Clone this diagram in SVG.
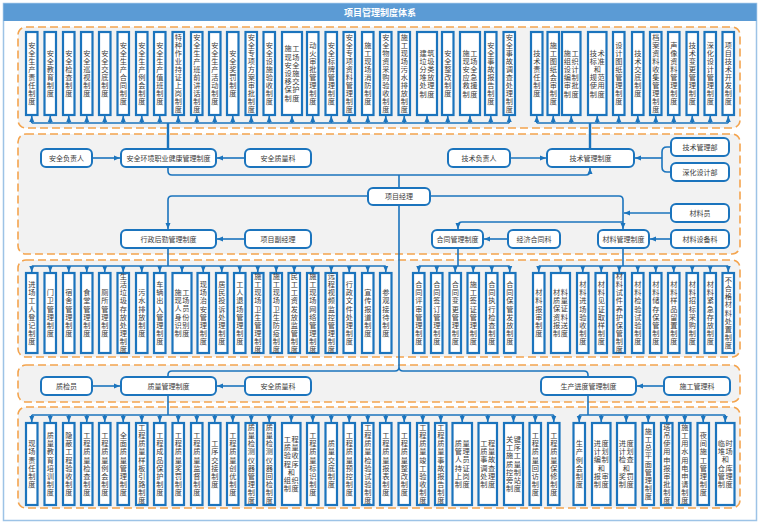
<svg xmlns="http://www.w3.org/2000/svg" width="760" height="524" viewBox="0 0 760 524">
<style>
.fr{fill:#fff;stroke:#9dc3e6;stroke-width:1.5}
.g{fill:#f2f2f2;stroke:#f4a44e;stroke-width:1.6;stroke-dasharray:8 4}
.b{fill:#fff;stroke:#1b74bd;stroke-width:2.2}
.n{fill:#fff;stroke:#1b74bd;stroke-width:2}
text{font-family:"Noto Sans CJK SC","Noto Sans",sans-serif;fill:#3a3a3a}
.v{font-size:7.2px;text-anchor:middle}
.w{font-size:7.2px;text-anchor:middle}
.h{font-size:7px;text-anchor:middle}
.c{fill:none;stroke:#1b74bd;stroke-width:1.6}
.t{fill:none;stroke:#1b74bd;stroke-width:2.4}
.a{fill:none;stroke:#1b74bd;stroke-width:1.6;marker-end:url(#ar)}
</style>
<defs>
<marker id="ar" markerUnits="userSpaceOnUse" markerWidth="6" markerHeight="6" viewBox="0 0 6 6" refX="6" refY="3" orient="auto"><path d="M0,0.5 L6,3 L0,5.5 z" fill="#1b74bd"/></marker>
</defs>
<rect class="fr" x="3.5" y="3.5" width="753" height="517"/>
<rect x="3.5" y="3.5" width="753" height="17.5" fill="#5b9bd5"/>
<text x="380" y="15.8" style="font-size:9px;font-weight:bold;fill:#fff;text-anchor:middle">项目管理制度体系</text>

<rect class="g" x="18" y="27" width="722" height="101" rx="8"/>
<rect class="g" x="18" y="134" width="722" height="120" rx="8"/>
<rect class="g" x="18" y="260" width="722" height="97" rx="8"/>
<rect class="g" x="18" y="365" width="722" height="37" rx="8"/>
<rect class="g" x="18" y="407" width="722" height="101" rx="8"/>

<g id="connectors">
<path class="c" d="M31.75,123 H509.25 M536.75,123 H728.25"/>
<path class="t" d="M168,123 V149 M590,123 V149"/>
<path class="a" d="M31.75,123 V116"/><path class="a" d="M50.25,123 V116"/><path class="a" d="M68.75,123 V116"/><path class="a" d="M86.75,123 V116"/><path class="a" d="M104.75,123 V116"/><path class="a" d="M123.25,123 V116"/><path class="a" d="M141.75,123 V116"/><path class="a" d="M159.75,123 V116"/><path class="a" d="M178.25,123 V116"/><path class="a" d="M196.75,123 V116"/><path class="a" d="M214.75,123 V116"/><path class="a" d="M232.75,123 V116"/><path class="a" d="M251.25,123 V116"/><path class="a" d="M269.25,123 V116"/><path class="a" d="M292,123 V116"/><path class="a" d="M312.75,123 V116"/><path class="a" d="M331.25,123 V116"/><path class="a" d="M349.25,123 V116"/><path class="a" d="M367.75,123 V116"/><path class="a" d="M385.75,123 V116"/><path class="a" d="M404.25,123 V116"/><path class="a" d="M427,123 V116"/><path class="a" d="M447.75,123 V116"/><path class="a" d="M470,123 V116"/><path class="a" d="M490.75,123 V116"/><path class="a" d="M509.25,123 V116"/>
<path class="a" d="M536.75,123 V116"/><path class="a" d="M553.25,123 V116"/><path class="a" d="M571.25,123 V116"/><path class="a" d="M597.25,123 V116"/><path class="a" d="M618.75,123 V116"/><path class="a" d="M637.75,123 V116"/><path class="a" d="M655.75,123 V116"/><path class="a" d="M673.75,123 V116"/><path class="a" d="M692.25,123 V116"/><path class="a" d="M710.25,123 V116"/><path class="a" d="M728.25,123 V116"/>

<path class="a" d="M92,158 H120"/>
<path class="a" d="M245,158 H217"/>
<path class="a" d="M510,158 H546"/>
<path class="c" d="M671,147 H667 Q662,147 662,152 V167 Q662,172 667,172 H671"/>
<path class="a" d="M662,158 H635"/>
<path class="c" d="M168,167 V171 Q168,175 172,175 H586 Q590,175 590,171"/>
<path class="a" d="M590,172 V168"/>
<path class="c" d="M399,188 V175"/>
<path class="a" d="M368,196 H172 Q168,196 168,200 V229"/>
<path class="a" d="M430,196 H619 Q623,196 623,200 V229"/>
<path class="a" d="M623,222 H462 Q458,222 458,226 V229"/>
<path class="a" d="M671,213 H624"/>
<path class="a" d="M508,239 H484"/>
<path class="a" d="M671,239 H650"/>
<path class="a" d="M245,239 H217"/>
<path class="c" d="M399,205 V367 Q399,371 395,371 H172 Q168,371 168,375 V377 M399,367 Q399,371 403,371 H584 Q588,371 588,375 V377"/>

<path class="c" d="M168,248 V266 M458,248 V266 M623,248 V266"/>
<path class="c" d="M31.75,266 H385.75 M418.75,266 H509.75 M538.75,266 H728.25"/>
<path class="a" d="M31.75,266 V272"/><path class="a" d="M50.25,266 V272"/><path class="a" d="M68.75,266 V272"/><path class="a" d="M86.75,266 V272"/><path class="a" d="M104.75,266 V272"/><path class="a" d="M123.25,266 V272"/><path class="a" d="M141.75,266 V272"/><path class="a" d="M159.75,266 V272"/><path class="a" d="M182,266 V272"/><path class="a" d="M203.25,266 V272"/><path class="a" d="M221.75,266 V272"/><path class="a" d="M239.75,266 V272"/><path class="a" d="M257.75,266 V272"/><path class="a" d="M276.25,266 V272"/><path class="a" d="M294.25,266 V272"/><path class="a" d="M312.75,266 V272"/><path class="a" d="M331.25,266 V272"/><path class="a" d="M349.25,266 V272"/><path class="a" d="M367.75,266 V272"/><path class="a" d="M385.75,266 V272"/>
<path class="a" d="M418.75,266 V272"/><path class="a" d="M436.75,266 V272"/><path class="a" d="M455.25,266 V272"/><path class="a" d="M473.25,266 V272"/><path class="a" d="M491.75,266 V272"/><path class="a" d="M509.75,266 V272"/>
<path class="a" d="M538.75,266 V272"/><path class="a" d="M560.5,266 V272"/><path class="a" d="M582.75,266 V272"/><path class="a" d="M601.25,266 V272"/><path class="a" d="M619.25,266 V272"/><path class="a" d="M637.75,266 V272"/><path class="a" d="M655.75,266 V272"/><path class="a" d="M673.75,266 V272"/><path class="a" d="M692.25,266 V272"/><path class="a" d="M710.25,266 V272"/><path class="a" d="M728.25,266 V272"/>

<path class="a" d="M92,386 H120"/>
<path class="a" d="M245,386 H217"/>
<path class="a" d="M664,386 H637"/>

<path class="c" d="M168,395 V415 M588,395 V415"/>
<path class="c" d="M31.75,415 H553.75 M579.25,415 H725.25"/>
<path class="a" d="M31.75,415 V422"/><path class="a" d="M50.25,415 V422"/><path class="a" d="M68.75,415 V422"/><path class="a" d="M86.75,415 V422"/><path class="a" d="M104.75,415 V422"/><path class="a" d="M123.25,415 V422"/><path class="a" d="M141.75,415 V422"/><path class="a" d="M159.75,415 V422"/><path class="a" d="M178.25,415 V422"/><path class="a" d="M196.75,415 V422"/><path class="a" d="M214.75,415 V422"/><path class="a" d="M232.75,415 V422"/><path class="a" d="M251.25,415 V422"/><path class="a" d="M269.25,415 V422"/><path class="a" d="M291.25,415 V422"/><path class="a" d="M312.75,415 V422"/><path class="a" d="M331.25,415 V422"/><path class="a" d="M349.25,415 V422"/><path class="a" d="M367.75,415 V422"/><path class="a" d="M385.75,415 V422"/><path class="a" d="M404.25,415 V422"/><path class="a" d="M422.75,415 V422"/><path class="a" d="M440.75,415 V422"/><path class="a" d="M462.25,415 V422"/><path class="a" d="M487.75,415 V422"/><path class="a" d="M513.5,415 V422"/><path class="a" d="M535.25,415 V422"/><path class="a" d="M553.75,415 V422"/>
<path class="a" d="M579.25,415 V422"/><path class="a" d="M601.25,415 V422"/><path class="a" d="M626.25,415 V422"/><path class="a" d="M648.25,415 V422"/><path class="a" d="M666.75,415 V422"/><path class="a" d="M684.75,415 V422"/><path class="a" d="M703.25,415 V422"/><path class="a" d="M725.25,415 V422"/>
</g>

<!-- top row -->
<g id="t1"><rect class="b" x="26" y="32" width="11.5" height="83"/><text class="v" x="31.75 31.75 31.75 31.75 31.75 31.75 31.75 31.75" y="47.7" dy="0 8.1 8.1 8.1 8.1 8.1 8.1 8.1">安全生产责任制度</text></g>
<g id="t2"><rect class="b" x="44.5" y="32" width="11.5" height="83"/><text class="v" x="50.25 50.25 50.25 50.25 50.25 50.25" y="55.8" dy="0 8.1 8.1 8.1 8.1 8.1">安全教育制度</text></g>
<g id="t3"><rect class="b" x="63" y="32" width="11.5" height="83"/><text class="v" x="68.75 68.75 68.75 68.75 68.75 68.75" y="55.8" dy="0 8.1 8.1 8.1 8.1 8.1">安全检查制度</text></g>
<g id="t4"><rect class="b" x="81" y="32" width="11.5" height="83"/><text class="v" x="86.75 86.75 86.75 86.75 86.75 86.75" y="55.8" dy="0 8.1 8.1 8.1 8.1 8.1">安全巡视制度</text></g>
<g id="t5"><rect class="b" x="99" y="32" width="11.5" height="83"/><text class="v" x="104.75 104.75 104.75 104.75 104.75 104.75" y="55.8" dy="0 8.1 8.1 8.1 8.1 8.1">安全交底制度</text></g>
<g id="t6"><rect class="b" x="117.5" y="32" width="11.5" height="83"/><text class="v" x="123.25 123.25 123.25 123.25 123.25 123.25 123.25 123.25" y="47.7" dy="0 8.1 8.1 8.1 8.1 8.1 8.1 8.1">安全生产合同制度</text></g>
<g id="t7"><rect class="b" x="136" y="32" width="11.5" height="83"/><text class="v" x="141.75 141.75 141.75 141.75 141.75 141.75 141.75 141.75" y="47.7" dy="0 8.1 8.1 8.1 8.1 8.1 8.1 8.1">安全生产例会制度</text></g>
<g id="t8"><rect class="b" x="154" y="32" width="11.5" height="83"/><text class="v" x="159.75 159.75 159.75 159.75 159.75 159.75 159.75 159.75" y="47.7" dy="0 8.1 8.1 8.1 8.1 8.1 8.1 8.1">安全生产值班制度</text></g>
<g id="t9"><rect class="b" x="172.5" y="32" width="11.5" height="83"/><text class="v" x="178.25 178.25 178.25 178.25 178.25 178.25 178.25 178.25 178.25 178.25" y="39.6" dy="0 8.1 8.1 8.1 8.1 8.1 8.1 8.1 8.1 8.1">特种作业持证上岗制度</text></g>
<g id="t10"><rect class="b" x="191" y="32" width="11.5" height="83"/><text class="v" x="196.75 196.75 196.75 196.75 196.75 196.75 196.75 196.75 196.75 196.75" y="39.6" dy="0 8.1 8.1 8.1 8.1 8.1 8.1 8.1 8.1 8.1">安全生产班前讲话制度</text></g>
<g id="t11"><rect class="b" x="209" y="32" width="11.5" height="83"/><text class="v" x="214.75 214.75 214.75 214.75 214.75 214.75 214.75 214.75" y="47.7" dy="0 8.1 8.1 8.1 8.1 8.1 8.1 8.1">安全生产活动制度</text></g>
<g id="t12"><rect class="b" x="227" y="32" width="11.5" height="83"/><text class="v" x="232.75 232.75 232.75 232.75 232.75 232.75" y="55.8" dy="0 8.1 8.1 8.1 8.1 8.1">安全奖罚制度</text></g>
<g id="t13"><rect class="b" x="245.5" y="32" width="11.5" height="83"/><text class="v" x="251.25 251.25 251.25 251.25 251.25 251.25 251.25 251.25 251.25 251.25" y="39.6" dy="0 8.1 8.1 8.1 8.1 8.1 8.1 8.1 8.1 8.1">安全专项方案审批制度</text></g>
<g id="t14"><rect class="b" x="263.5" y="32" width="11.5" height="83"/><text class="v" x="269.25 269.25 269.25 269.25 269.25 269.25 269.25 269.25" y="47.7" dy="0 8.1 8.1 8.1 8.1 8.1 8.1 8.1">安全设施验收制度</text></g>
<g id="t15"><rect class="b" x="282" y="32" width="20" height="83"/><text class="w" x="288.2 295.8 288.2 295.8 288.2 295.8 288.2 295.8 288.2 295.8 288.2 295.8 288.2 295.8" y="51.4 51.4 59.6 59.6 67.8 67.8 76 76 84.2 84.2 92.4 92.4 100.6 100.6">施工现场安全设施移交保护制度</text></g>
<g id="t16"><rect class="b" x="307" y="32" width="11.5" height="83"/><text class="v" x="312.75 312.75 312.75 312.75 312.75 312.75 312.75 312.75" y="47.7" dy="0 8.1 8.1 8.1 8.1 8.1 8.1 8.1">动火审批管理制度</text></g>
<g id="t17"><rect class="b" x="325.5" y="32" width="11.5" height="83"/><text class="v" x="331.25 331.25 331.25 331.25 331.25 331.25 331.25 331.25" y="47.7" dy="0 8.1 8.1 8.1 8.1 8.1 8.1 8.1">安全标牌管理制度</text></g>
<g id="t18"><rect class="b" x="343.5" y="32" width="11.5" height="83"/><text class="v" x="349.25 349.25 349.25 349.25 349.25 349.25 349.25 349.25 349.25 349.25" y="39.6" dy="0 8.1 8.1 8.1 8.1 8.1 8.1 8.1 8.1 8.1">安全专项资料管理制度</text></g>
<g id="t19"><rect class="b" x="362" y="32" width="11.5" height="83"/><text class="v" x="367.75 367.75 367.75 367.75 367.75 367.75 367.75 367.75" y="47.7" dy="0 8.1 8.1 8.1 8.1 8.1 8.1 8.1">施工现场消防制度</text></g>
<g id="t20"><rect class="b" x="380" y="32" width="11.5" height="83"/><text class="v" x="385.75 385.75 385.75 385.75 385.75 385.75 385.75 385.75 385.75 385.75" y="39.6" dy="0 8.1 8.1 8.1 8.1 8.1 8.1 8.1 8.1 8.1">安全物资采购验收制度</text></g>
<g id="t21"><rect class="b" x="398.5" y="32" width="11.5" height="83"/><text class="v" x="404.25 404.25 404.25 404.25 404.25 404.25 404.25 404.25 404.25 404.25" y="39.6" dy="0 8.1 8.1 8.1 8.1 8.1 8.1 8.1 8.1 8.1">施工现场污水排放制度</text></g>
<g id="t22"><rect class="b" x="417" y="32" width="20" height="83"/><text class="w" x="423.2 430.8 423.2 430.8 423.2 430.8 423.2 430.8 423.2 430.8 423.2 430.8" y="55.5 55.5 63.7 63.7 71.9 71.9 80.1 80.1 88.3 88.3 96.5 96.5">建筑垃圾分类堆放处理制度</text></g>
<g id="t23"><rect class="b" x="442" y="32" width="11.5" height="83"/><text class="v" x="447.75 447.75 447.75 447.75 447.75 447.75" y="55.8" dy="0 8.1 8.1 8.1 8.1 8.1">安全整改制度</text></g>
<g id="t24"><rect class="b" x="460" y="32" width="20" height="83"/><text class="w" x="466.2 473.8 466.2 473.8 466.2 473.8 466.2 473.8 466.2 473.8 466.2 473.8" y="55.5 55.5 63.7 63.7 71.9 71.9 80.1 80.1 88.3 88.3 96.5 96.5">施工现场安全应急救援制度</text></g>
<g id="t25"><rect class="b" x="485" y="32" width="11.5" height="83"/><text class="v" x="490.75 490.75 490.75 490.75 490.75 490.75 490.75 490.75" y="47.7" dy="0 8.1 8.1 8.1 8.1 8.1 8.1 8.1">安全事故报告制度</text></g>
<g id="t26"><rect class="b" x="503.5" y="32" width="11.5" height="83"/><text class="v" x="509.25 509.25 509.25 509.25 509.25 509.25 509.25 509.25 509.25 509.25" y="39.6" dy="0 8.1 8.1 8.1 8.1 8.1 8.1 8.1 8.1 8.1">安全事故调查处理制度</text></g>
<g id="t27"><rect class="b" x="531" y="32" width="11.5" height="83"/><text class="v" x="536.75 536.75 536.75 536.75 536.75 536.75" y="55.8" dy="0 8.1 8.1 8.1 8.1 8.1">技术责任制度</text></g>
<g id="t28"><rect class="b" x="547.5" y="32" width="11.5" height="83"/><text class="v" x="553.25 553.25 553.25 553.25 553.25 553.25 553.25 553.25" y="47.7" dy="0 8.1 8.1 8.1 8.1 8.1 8.1 8.1">施工图纸会审制度</text></g>
<g id="t29"><rect class="b" x="562" y="32" width="18.5" height="83"/><text class="w" x="567.45 575.05 567.45 575.05 567.45 575.05 567.45 575.05 567.45 575.05 567.45 575.05" y="55.5 55.5 63.7 63.7 71.9 71.9 80.1 80.1 88.3 88.3 96.5 96.5">施工组织设计编制审批制度</text></g>
<g id="t30"><rect class="b" x="588" y="32" width="18.5" height="83"/><text class="w" x="593.45 601.05 593.45 601.05 597.25 593.45 601.05 593.45 601.05 593.45 601.05" y="55.5 55.5 63.7 63.7 71.9 80.1 80.1 88.3 88.3 96.5 96.5">技术标准和规范使用制度</text></g>
<g id="t31"><rect class="b" x="613" y="32" width="11.5" height="83"/><text class="v" x="618.75 618.75 618.75 618.75 618.75 618.75 618.75 618.75" y="47.7" dy="0 8.1 8.1 8.1 8.1 8.1 8.1 8.1">设计图纸管理制度</text></g>
<g id="t32"><rect class="b" x="632" y="32" width="11.5" height="83"/><text class="v" x="637.75 637.75 637.75 637.75 637.75 637.75" y="55.8" dy="0 8.1 8.1 8.1 8.1 8.1">技术交底制度</text></g>
<g id="t33"><rect class="b" x="650" y="32" width="11.5" height="83"/><text class="v" x="655.75 655.75 655.75 655.75 655.75 655.75 655.75 655.75 655.75 655.75" y="39.6" dy="0 8.1 8.1 8.1 8.1 8.1 8.1 8.1 8.1 8.1">档案资料收集管理制度</text></g>
<g id="t34"><rect class="b" x="668" y="32" width="11.5" height="83"/><text class="v" x="673.75 673.75 673.75 673.75 673.75 673.75 673.75 673.75" y="47.7" dy="0 8.1 8.1 8.1 8.1 8.1 8.1 8.1">声像资料管理制度</text></g>
<g id="t35"><rect class="b" x="686.5" y="32" width="11.5" height="83"/><text class="v" x="692.25 692.25 692.25 692.25 692.25 692.25 692.25 692.25" y="47.7" dy="0 8.1 8.1 8.1 8.1 8.1 8.1 8.1">技术变更管理制度</text></g>
<g id="t36"><rect class="b" x="704.5" y="32" width="11.5" height="83"/><text class="v" x="710.25 710.25 710.25 710.25 710.25 710.25 710.25 710.25" y="47.7" dy="0 8.1 8.1 8.1 8.1 8.1 8.1 8.1">深化设计管理制度</text></g>
<g id="t37"><rect class="b" x="722.5" y="32" width="11.5" height="83"/><text class="v" x="728.25 728.25 728.25 728.25 728.25 728.25 728.25 728.25" y="47.7" dy="0 8.1 8.1 8.1 8.1 8.1 8.1 8.1">项目技术开发制度</text></g>

<!-- middle nodes -->
<g id="m-aqfzr"><rect class="n" x="41" y="149" width="51" height="18" rx="5"/><text class="h" x="66.5" y="160.5">安全负责人</text></g>
<g id="m-aqhj"><rect class="n" x="121" y="149" width="95" height="18" rx="5"/><text class="h" x="168.5" y="160.5">安全环境职业健康管理制度</text></g>
<g id="m-aqzlk"><rect class="n" x="245" y="149" width="66" height="18" rx="5"/><text class="h" x="278" y="160.5">安全质量科</text></g>
<g id="m-xzhq"><rect class="n" x="121" y="230" width="95" height="18" rx="5"/><text class="h" x="168.5" y="241.5">行政后勤管理制度</text></g>
<g id="m-xmfjl"><rect class="n" x="245" y="230" width="66" height="18" rx="5"/><text class="h" x="278" y="241.5">项目副经理</text></g>
<g id="m-xmjl"><rect class="n" x="368" y="188" width="62" height="17" rx="5"/><text class="h" x="399" y="199">项目经理</text></g>
<g id="m-jsfzr"><rect class="n" x="448" y="149" width="62" height="18" rx="5"/><text class="h" x="479" y="160.5">技术负责人</text></g>
<g id="m-jsgl"><rect class="n" x="547" y="149" width="87" height="18" rx="5"/><text class="h" x="590.5" y="160.5">技术管理制度</text></g>
<g id="m-jsglb"><rect class="n" x="671" y="138" width="58" height="18" rx="5"/><text class="h" x="700" y="149.5">技术管理部</text></g>
<g id="m-shsj"><rect class="n" x="671" y="163" width="58" height="18" rx="5"/><text class="h" x="700" y="174.5">深化设计部</text></g>
<g id="m-cly"><rect class="n" x="671" y="204" width="58" height="18" rx="5"/><text class="h" x="700" y="215.5">材料员</text></g>
<g id="m-htgl"><rect class="n" x="432" y="230" width="51" height="18" rx="5"/><text class="h" x="457.5" y="241.5">合同管理制度</text></g>
<g id="m-jjht"><rect class="n" x="508" y="230" width="52" height="18" rx="5"/><text class="h" x="534" y="241.5">经济合同科</text></g>
<g id="m-clgl"><rect class="n" x="598" y="230" width="51" height="18" rx="5"/><text class="h" x="623.5" y="241.5">材料管理制度</text></g>
<g id="m-clsb"><rect class="n" x="671" y="230" width="58" height="18" rx="5"/><text class="h" x="700" y="241.5">材料设备科</text></g>

<!-- section 3 -->
<g id="s3-1"><rect class="b" x="26" y="273" width="11.5" height="80"/><text class="v" x="31.75 31.75 31.75 31.75 31.75 31.75 31.75 31.75" y="287.2" dy="0 8.1 8.1 8.1 8.1 8.1 8.1 8.1">进场工人登记制度</text></g>
<g id="s3-2"><rect class="b" x="44.5" y="273" width="11.5" height="80"/><text class="v" x="50.25 50.25 50.25 50.25 50.25 50.25" y="295.3" dy="0 8.1 8.1 8.1 8.1 8.1">门卫管理制度</text></g>
<g id="s3-3"><rect class="b" x="63" y="273" width="11.5" height="80"/><text class="v" x="68.75 68.75 68.75 68.75 68.75 68.75" y="295.3" dy="0 8.1 8.1 8.1 8.1 8.1">宿舍管理制度</text></g>
<g id="s3-4"><rect class="b" x="81" y="273" width="11.5" height="80"/><text class="v" x="86.75 86.75 86.75 86.75 86.75 86.75" y="295.3" dy="0 8.1 8.1 8.1 8.1 8.1">食堂管理制度</text></g>
<g id="s3-5"><rect class="b" x="99" y="273" width="11.5" height="80"/><text class="v" x="104.75 104.75 104.75 104.75 104.75 104.75" y="295.3" dy="0 8.1 8.1 8.1 8.1 8.1">厕所管理制度</text></g>
<g id="s3-6"><rect class="b" x="117.5" y="273" width="11.5" height="80"/><text class="v" x="123.25 123.25 123.25 123.25 123.25 123.25 123.25 123.25 123.25 123.25" y="279.1" dy="0 8.1 8.1 8.1 8.1 8.1 8.1 8.1 8.1 8.1">生活垃圾存放处理制度</text></g>
<g id="s3-7"><rect class="b" x="136" y="273" width="11.5" height="80"/><text class="v" x="141.75 141.75 141.75 141.75 141.75 141.75" y="295.3" dy="0 8.1 8.1 8.1 8.1 8.1">污水排放制度</text></g>
<g id="s3-8"><rect class="b" x="154" y="273" width="11.5" height="80"/><text class="v" x="159.75 159.75 159.75 159.75 159.75 159.75 159.75 159.75" y="287.2" dy="0 8.1 8.1 8.1 8.1 8.1 8.1 8.1">车辆出入管理制度</text></g>
<g id="s3-9"><rect class="b" x="172.5" y="273" width="19" height="80"/><text class="w" x="178.2 185.8 178.2 185.8 178.2 185.8 178.2 185.8 178.2 185.8 178.2 185.8" y="295 295 303.2 303.2 311.4 311.4 319.6 319.6 327.8 327.8 336 336">施工现场人员身份识别制度</text></g>
<g id="s3-10"><rect class="b" x="197.5" y="273" width="11.5" height="80"/><text class="v" x="203.25 203.25 203.25 203.25 203.25 203.25 203.25 203.25" y="287.2" dy="0 8.1 8.1 8.1 8.1 8.1 8.1 8.1">现场治安管理制度</text></g>
<g id="s3-11"><rect class="b" x="216" y="273" width="11.5" height="80"/><text class="v" x="221.75 221.75 221.75 221.75 221.75 221.75 221.75 221.75" y="287.2" dy="0 8.1 8.1 8.1 8.1 8.1 8.1 8.1">居民投诉处理制度</text></g>
<g id="s3-12"><rect class="b" x="234" y="273" width="11.5" height="80"/><text class="v" x="239.75 239.75 239.75 239.75 239.75 239.75 239.75 239.75" y="287.2" dy="0 8.1 8.1 8.1 8.1 8.1 8.1 8.1">工人退场管理制度</text></g>
<g id="s3-13"><rect class="b" x="252" y="273" width="11.5" height="80"/><text class="v" x="257.75 257.75 257.75 257.75 257.75 257.75 257.75 257.75 257.75 257.75" y="279.1" dy="0 8.1 8.1 8.1 8.1 8.1 8.1 8.1 8.1 8.1">施工现场卫生管理制度</text></g>
<g id="s3-14"><rect class="b" x="270.5" y="273" width="11.5" height="80"/><text class="v" x="276.25 276.25 276.25 276.25 276.25 276.25 276.25 276.25 276.25 276.25" y="279.1" dy="0 8.1 8.1 8.1 8.1 8.1 8.1 8.1 8.1 8.1">施工现场卫生防疫制度</text></g>
<g id="s3-15"><rect class="b" x="288.5" y="273" width="11.5" height="80"/><text class="v" x="294.25 294.25 294.25 294.25 294.25 294.25 294.25 294.25 294.25 294.25" y="279.1" dy="0 8.1 8.1 8.1 8.1 8.1 8.1 8.1 8.1 8.1">民工工资发放监管制度</text></g>
<g id="s3-16"><rect class="b" x="307" y="273" width="11.5" height="80"/><text class="v" x="312.75 312.75 312.75 312.75 312.75 312.75 312.75 312.75 312.75 312.75" y="279.1" dy="0 8.1 8.1 8.1 8.1 8.1 8.1 8.1 8.1 8.1">施工现场网络管理制度</text></g>
<g id="s3-17"><rect class="b" x="325.5" y="273" width="11.5" height="80"/><text class="v" x="331.25 331.25 331.25 331.25 331.25 331.25 331.25 331.25 331.25 331.25" y="279.1" dy="0 8.1 8.1 8.1 8.1 8.1 8.1 8.1 8.1 8.1">远程视频监控管理制度</text></g>
<g id="s3-18"><rect class="b" x="343.5" y="273" width="11.5" height="80"/><text class="v" x="349.25 349.25 349.25 349.25 349.25 349.25 349.25 349.25" y="287.2" dy="0 8.1 8.1 8.1 8.1 8.1 8.1 8.1">行政文件处理制度</text></g>
<g id="s3-19"><rect class="b" x="362" y="273" width="11.5" height="80"/><text class="v" x="367.75 367.75 367.75 367.75 367.75 367.75" y="295.3" dy="0 8.1 8.1 8.1 8.1 8.1">宣传报道制度</text></g>
<g id="s3-20"><rect class="b" x="380" y="273" width="11.5" height="80"/><text class="v" x="385.75 385.75 385.75 385.75 385.75 385.75" y="295.3" dy="0 8.1 8.1 8.1 8.1 8.1">参观接待制度</text></g>
<g id="s3-21"><rect class="b" x="413" y="273" width="11.5" height="80"/><text class="v" x="418.75 418.75 418.75 418.75 418.75 418.75 418.75 418.75" y="287.2" dy="0 8.1 8.1 8.1 8.1 8.1 8.1 8.1">合同评审管理制度</text></g>
<g id="s3-22"><rect class="b" x="431" y="273" width="11.5" height="80"/><text class="v" x="436.75 436.75 436.75 436.75 436.75 436.75 436.75 436.75" y="287.2" dy="0 8.1 8.1 8.1 8.1 8.1 8.1 8.1">合同签订管理制度</text></g>
<g id="s3-23"><rect class="b" x="449.5" y="273" width="11.5" height="80"/><text class="v" x="455.25 455.25 455.25 455.25 455.25 455.25 455.25 455.25" y="287.2" dy="0 8.1 8.1 8.1 8.1 8.1 8.1 8.1">合同变更管理制度</text></g>
<g id="s3-24"><rect class="b" x="467.5" y="273" width="11.5" height="80"/><text class="v" x="473.25 473.25 473.25 473.25 473.25 473.25 473.25 473.25" y="287.2" dy="0 8.1 8.1 8.1 8.1 8.1 8.1 8.1">施工签证管理制度</text></g>
<g id="s3-25"><rect class="b" x="486" y="273" width="11.5" height="80"/><text class="v" x="491.75 491.75 491.75 491.75 491.75 491.75 491.75 491.75" y="287.2" dy="0 8.1 8.1 8.1 8.1 8.1 8.1 8.1">合同执行检查制度</text></g>
<g id="s3-26"><rect class="b" x="504" y="273" width="11.5" height="80"/><text class="v" x="509.75 509.75 509.75 509.75 509.75 509.75 509.75 509.75" y="287.2" dy="0 8.1 8.1 8.1 8.1 8.1 8.1 8.1">合同保管发放制度</text></g>
<g id="s3-27"><rect class="b" x="533" y="273" width="11.5" height="80"/><text class="v" x="538.75 538.75 538.75 538.75 538.75 538.75" y="295.3" dy="0 8.1 8.1 8.1 8.1 8.1">材料报审制度</text></g>
<g id="s3-28"><rect class="b" x="551" y="273" width="19" height="80"/><text class="w" x="556.7 564.3 556.7 564.3 556.7 564.3 556.7 564.3 556.7 564.3 556.7 564.3" y="295 295 303.2 303.2 311.4 311.4 319.6 319.6 327.8 327.8 336 336">材料质量保证资料报送制度</text></g>
<g id="s3-29"><rect class="b" x="577" y="273" width="11.5" height="80"/><text class="v" x="582.75 582.75 582.75 582.75 582.75 582.75 582.75 582.75" y="287.2" dy="0 8.1 8.1 8.1 8.1 8.1 8.1 8.1">材料进场验收制度</text></g>
<g id="s3-30"><rect class="b" x="595.5" y="273" width="11.5" height="80"/><text class="v" x="601.25 601.25 601.25 601.25 601.25 601.25 601.25 601.25" y="287.2" dy="0 8.1 8.1 8.1 8.1 8.1 8.1 8.1">材料见证取样制度</text></g>
<g id="s3-31"><rect class="b" x="613.5" y="273" width="11.5" height="80"/><text class="v" x="619.25 619.25 619.25 619.25 619.25 619.25 619.25 619.25 619.25 619.25" y="279.1" dy="0 8.1 8.1 8.1 8.1 8.1 8.1 8.1 8.1 8.1">材料试件养护保管制度</text></g>
<g id="s3-32"><rect class="b" x="632" y="273" width="11.5" height="80"/><text class="v" x="637.75 637.75 637.75 637.75 637.75 637.75 637.75 637.75" y="287.2" dy="0 8.1 8.1 8.1 8.1 8.1 8.1 8.1">材料检验试验制度</text></g>
<g id="s3-33"><rect class="b" x="650" y="273" width="11.5" height="80"/><text class="v" x="655.75 655.75 655.75 655.75 655.75 655.75 655.75 655.75" y="287.2" dy="0 8.1 8.1 8.1 8.1 8.1 8.1 8.1">材料储存保管制度</text></g>
<g id="s3-34"><rect class="b" x="668" y="273" width="11.5" height="80"/><text class="v" x="673.75 673.75 673.75 673.75 673.75 673.75 673.75 673.75" y="287.2" dy="0 8.1 8.1 8.1 8.1 8.1 8.1 8.1">材料样品留置制度</text></g>
<g id="s3-35"><rect class="b" x="686.5" y="273" width="11.5" height="80"/><text class="v" x="692.25 692.25 692.25 692.25 692.25 692.25 692.25 692.25" y="287.2" dy="0 8.1 8.1 8.1 8.1 8.1 8.1 8.1">材料招标采购制度</text></g>
<g id="s3-36"><rect class="b" x="704.5" y="273" width="11.5" height="80"/><text class="v" x="710.25 710.25 710.25 710.25 710.25 710.25 710.25 710.25" y="287.2" dy="0 8.1 8.1 8.1 8.1 8.1 8.1 8.1">材料紧急存放制度</text></g>
<g id="s3-37"><rect class="b" x="722.5" y="273" width="11.5" height="80"/><text class="v" x="728.25 728.25 728.25 728.25 728.25 728.25 728.25 728.25 728.25" y="283.1" dy="0 8.1 8.1 8.1 8.1 8.1 8.1 8.1 8.1">不合格材料处置制度</text></g>

<!-- section 4 -->
<g id="m-zjy"><rect class="n" x="41" y="377" width="51" height="18" rx="5"/><text class="h" x="66.5" y="388.5">质检员</text></g>
<g id="m-zlgl"><rect class="n" x="121" y="377" width="95" height="18" rx="5"/><text class="h" x="168.5" y="388.5">质量管理制度</text></g>
<g id="m-aqzlk2"><rect class="n" x="245" y="377" width="66" height="18" rx="5"/><text class="h" x="278" y="388.5">安全质量科</text></g>
<g id="m-scjd"><rect class="n" x="541" y="377" width="95" height="18" rx="5"/><text class="h" x="588.5" y="388.5">生产进度管理制度</text></g>
<g id="m-sggl"><rect class="n" x="664" y="377" width="66" height="18" rx="5"/><text class="h" x="697" y="388.5">施工管理科</text></g>

<!-- section 5 -->
<g id="s5-1"><rect class="b" x="26" y="423" width="11.5" height="82"/><text class="v" x="31.75 31.75 31.75 31.75 31.75 31.75" y="446.3" dy="0 8.1 8.1 8.1 8.1 8.1">现场责任制度</text></g>
<g id="s5-2"><rect class="b" x="44.5" y="423" width="11.5" height="82"/><text class="v" x="50.25 50.25 50.25 50.25 50.25 50.25 50.25 50.25" y="438.2" dy="0 8.1 8.1 8.1 8.1 8.1 8.1 8.1">质量教育培训制度</text></g>
<g id="s5-3"><rect class="b" x="63" y="423" width="11.5" height="82"/><text class="v" x="68.75 68.75 68.75 68.75 68.75 68.75 68.75 68.75" y="438.2" dy="0 8.1 8.1 8.1 8.1 8.1 8.1 8.1">隐蔽工程验收制度</text></g>
<g id="s5-4"><rect class="b" x="81" y="423" width="11.5" height="82"/><text class="v" x="86.75 86.75 86.75 86.75 86.75 86.75 86.75 86.75" y="438.2" dy="0 8.1 8.1 8.1 8.1 8.1 8.1 8.1">工程质量检查制度</text></g>
<g id="s5-5"><rect class="b" x="99" y="423" width="11.5" height="82"/><text class="v" x="104.75 104.75 104.75 104.75 104.75 104.75 104.75 104.75" y="438.2" dy="0 8.1 8.1 8.1 8.1 8.1 8.1 8.1">工程质量例会制度</text></g>
<g id="s5-6"><rect class="b" x="117.5" y="423" width="11.5" height="82"/><text class="v" x="123.25 123.25 123.25 123.25 123.25 123.25 123.25 123.25" y="438.2" dy="0 8.1 8.1 8.1 8.1 8.1 8.1 8.1">全面质量管理制度</text></g>
<g id="s5-7"><rect class="b" x="136" y="423" width="11.5" height="82"/><text class="v" x="141.75 141.75 141.75 141.75 141.75 141.75 141.75 141.75 141.75 141.75" y="430.1" dy="0 8.1 8.1 8.1 8.1 8.1 8.1 8.1 8.1 8.1">工程质量样板引路制度</text></g>
<g id="s5-8"><rect class="b" x="154" y="423" width="11.5" height="82"/><text class="v" x="159.75 159.75 159.75 159.75 159.75 159.75 159.75 159.75" y="438.2" dy="0 8.1 8.1 8.1 8.1 8.1 8.1 8.1">工程成品保护制度</text></g>
<g id="s5-9"><rect class="b" x="172.5" y="423" width="11.5" height="82"/><text class="v" x="178.25 178.25 178.25 178.25 178.25 178.25 178.25 178.25" y="438.2" dy="0 8.1 8.1 8.1 8.1 8.1 8.1 8.1">工程质量奖罚制度</text></g>
<g id="s5-10"><rect class="b" x="191" y="423" width="11.5" height="82"/><text class="v" x="196.75 196.75 196.75 196.75 196.75 196.75 196.75 196.75" y="438.2" dy="0 8.1 8.1 8.1 8.1 8.1 8.1 8.1">工程质量监督制度</text></g>
<g id="s5-11"><rect class="b" x="209" y="423" width="11.5" height="82"/><text class="v" x="214.75 214.75 214.75 214.75 214.75 214.75" y="446.3" dy="0 8.1 8.1 8.1 8.1 8.1">工序交接制度</text></g>
<g id="s5-12"><rect class="b" x="227" y="423" width="11.5" height="82"/><text class="v" x="232.75 232.75 232.75 232.75 232.75 232.75 232.75 232.75" y="438.2" dy="0 8.1 8.1 8.1 8.1 8.1 8.1 8.1">工程质量创优制度</text></g>
<g id="s5-13"><rect class="b" x="245.5" y="423" width="11.5" height="82"/><text class="v" x="251.25 251.25 251.25 251.25 251.25 251.25 251.25 251.25 251.25 251.25" y="430.1" dy="0 8.1 8.1 8.1 8.1 8.1 8.1 8.1 8.1 8.1">质量检测仪器管理制度</text></g>
<g id="s5-14"><rect class="b" x="263.5" y="423" width="11.5" height="82"/><text class="v" x="269.25 269.25 269.25 269.25 269.25 269.25 269.25 269.25 269.25 269.25" y="430.1" dy="0 8.1 8.1 8.1 8.1 8.1 8.1 8.1 8.1 8.1">质量检测仪器回检制度</text></g>
<g id="s5-15"><rect class="b" x="282" y="423" width="18.5" height="82"/><text class="w" x="287.45 295.05 287.45 295.05 287.45 295.05 287.45 295.05 291.25 287.45 295.05 287.45 295.05" y="441.9 441.9 450.1 450.1 458.3 458.3 466.5 466.5 474.7 482.9 482.9 491.1 491.1">工程质量验收程序和组织制度</text></g>
<g id="s5-16"><rect class="b" x="307" y="423" width="11.5" height="82"/><text class="v" x="312.75 312.75 312.75 312.75 312.75 312.75 312.75 312.75" y="438.2" dy="0 8.1 8.1 8.1 8.1 8.1 8.1 8.1">工程质量标识制度</text></g>
<g id="s5-17"><rect class="b" x="325.5" y="423" width="11.5" height="82"/><text class="v" x="331.25 331.25 331.25 331.25 331.25 331.25" y="446.3" dy="0 8.1 8.1 8.1 8.1 8.1">质量交底制度</text></g>
<g id="s5-18"><rect class="b" x="343.5" y="423" width="11.5" height="82"/><text class="v" x="349.25 349.25 349.25 349.25 349.25 349.25 349.25 349.25" y="438.2" dy="0 8.1 8.1 8.1 8.1 8.1 8.1 8.1">工程质量预控制度</text></g>
<g id="s5-19"><rect class="b" x="362" y="423" width="11.5" height="82"/><text class="v" x="367.75 367.75 367.75 367.75 367.75 367.75 367.75 367.75 367.75 367.75" y="430.1" dy="0 8.1 8.1 8.1 8.1 8.1 8.1 8.1 8.1 8.1">工程质量检验试验制度</text></g>
<g id="s5-20"><rect class="b" x="380" y="423" width="11.5" height="82"/><text class="v" x="385.75 385.75 385.75 385.75 385.75 385.75 385.75 385.75" y="438.2" dy="0 8.1 8.1 8.1 8.1 8.1 8.1 8.1">工程质量报表制度</text></g>
<g id="s5-21"><rect class="b" x="398.5" y="423" width="11.5" height="82"/><text class="v" x="404.25 404.25 404.25 404.25 404.25 404.25 404.25 404.25" y="438.2" dy="0 8.1 8.1 8.1 8.1 8.1 8.1 8.1">工程质量整改制度</text></g>
<g id="s5-22"><rect class="b" x="417" y="423" width="11.5" height="82"/><text class="v" x="422.75 422.75 422.75 422.75 422.75 422.75 422.75 422.75 422.75 422.75" y="430.1" dy="0 8.1 8.1 8.1 8.1 8.1 8.1 8.1 8.1 8.1">工程质量竣工验收制度</text></g>
<g id="s5-23"><rect class="b" x="435" y="423" width="11.5" height="82"/><text class="v" x="440.75 440.75 440.75 440.75 440.75 440.75 440.75 440.75 440.75 440.75" y="430.1" dy="0 8.1 8.1 8.1 8.1 8.1 8.1 8.1 8.1 8.1">工程质量事故报告制度</text></g>
<g id="s5-24"><rect class="b" x="452.5" y="423" width="19.5" height="82"/><text class="w" x="458.45 466.05 458.45 466.05 458.45 466.05 458.45 466.05 458.45 466.05 458.45 466.05" y="446 446 454.2 454.2 462.4 462.4 470.6 470.6 478.8 478.8 487 487">质量管理人员持证上岗制度</text></g>
<g id="s5-25"><rect class="b" x="478.5" y="423" width="18.5" height="82"/><text class="w" x="483.95 491.55 483.95 491.55 483.95 491.55 483.95 491.55 483.95 491.55 483.95 491.55" y="446 446 454.2 454.2 462.4 462.4 470.6 470.6 478.8 478.8 487 487">工程质量事故调查处理制度</text></g>
<g id="s5-26"><rect class="b" x="504" y="423" width="19" height="82"/><text class="w" x="509.7 517.3 509.7 517.3 509.7 517.3 509.7 517.3 509.7 517.3 509.7 517.3 509.7 517.3" y="441.9 441.9 450.1 450.1 458.3 458.3 466.5 466.5 474.7 474.7 482.9 482.9 491.1 491.1">关键工序施工质量控制旁站制度</text></g>
<g id="s5-27"><rect class="b" x="529.5" y="423" width="11.5" height="82"/><text class="v" x="535.25 535.25 535.25 535.25 535.25 535.25 535.25 535.25" y="438.2" dy="0 8.1 8.1 8.1 8.1 8.1 8.1 8.1">工程质量回访制度</text></g>
<g id="s5-28"><rect class="b" x="548" y="423" width="11.5" height="82"/><text class="v" x="553.75 553.75 553.75 553.75 553.75 553.75 553.75 553.75" y="438.2" dy="0 8.1 8.1 8.1 8.1 8.1 8.1 8.1">工程质量保修制度</text></g>
<g id="s5-29"><rect class="b" x="573.5" y="423" width="11.5" height="82"/><text class="v" x="579.25 579.25 579.25 579.25 579.25 579.25" y="446.3" dy="0 8.1 8.1 8.1 8.1 8.1">生产例会制度</text></g>
<g id="s5-30"><rect class="b" x="592" y="423" width="18.5" height="82"/><text class="w" x="597.45 605.05 597.45 605.05 597.45 605.05 601.25 597.45 605.05 597.45 605.05" y="446 446 454.2 454.2 462.4 462.4 470.6 478.8 478.8 487 487">进度计划编制和报审制度</text></g>
<g id="s5-31"><rect class="b" x="617" y="423" width="18.5" height="82"/><text class="w" x="622.45 630.05 622.45 630.05 622.45 630.05 626.25 622.45 630.05 622.45 630.05" y="446 446 454.2 454.2 462.4 462.4 470.6 478.8 478.8 487 487">进度计划检查和奖罚制度</text></g>
<g id="s5-32"><rect class="b" x="642.5" y="423" width="11.5" height="82"/><text class="v" x="648.25 648.25 648.25 648.25 648.25 648.25 648.25 648.25 648.25" y="434.1" dy="0 8.1 8.1 8.1 8.1 8.1 8.1 8.1 8.1">施工总平面管理制度</text></g>
<g id="s5-33"><rect class="b" x="661" y="423" width="11.5" height="82"/><text class="v" x="666.75 666.75 666.75 666.75 666.75 666.75 666.75 666.75 666.75 666.75" y="430.1" dy="0 8.1 8.1 8.1 8.1 8.1 8.1 8.1 8.1 8.1">塔吊使用申报审批制度</text></g>
<g id="s5-34"><rect class="b" x="679" y="423" width="11.5" height="82"/><text class="v" x="684.75 684.75 684.75 684.75 684.75 684.75 684.75 684.75 684.75 684.75" y="430.1" dy="0 8.1 8.1 8.1 8.1 8.1 8.1 8.1 8.1 8.1">施工用水用电申请制度</text></g>
<g id="s5-35"><rect class="b" x="697.5" y="423" width="11.5" height="82"/><text class="v" x="703.25 703.25 703.25 703.25 703.25 703.25 703.25 703.25" y="438.2" dy="0 8.1 8.1 8.1 8.1 8.1 8.1 8.1">夜间施工管理制度</text></g>
<g id="s5-36"><rect class="b" x="716" y="423" width="18.5" height="82"/><text class="w" x="721.45 729.05 721.45 729.05 725.25 721.45 729.05 721.45 729.05 721.45 729.05" y="446 446 454.2 454.2 462.4 470.6 470.6 478.8 478.8 487 487">临时堆场和仓库管理制度</text></g>
</svg>
